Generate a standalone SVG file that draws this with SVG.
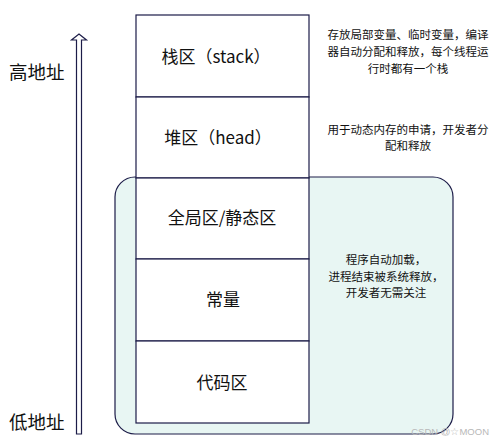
<svg xmlns="http://www.w3.org/2000/svg" width="504" height="445" viewBox="0 0 504 445">
<style>
.cell{fill:#ffffff;stroke:#1c1c48;stroke-width:1.2}
.big{font-family:"Noto Sans CJK SC","Noto Sans",sans-serif;font-size:17px;fill:#111;text-anchor:middle}
.side{font-family:"Noto Sans CJK SC","Noto Sans",sans-serif;font-size:11.5px;fill:#111;text-anchor:middle}
.addr{font-family:"Noto Sans CJK SC","Noto Sans",sans-serif;font-size:18.5px;fill:#111}
</style>
<rect width="504" height="445" fill="#ffffff"/>
<g id="region">
<rect x="115" y="177" width="338" height="257" rx="20" ry="20" fill="#e8f6f3" stroke="#1c1c48" stroke-width="1.2"/>
</g>
<g id="stack"><rect class="cell" x="136" y="15" width="173" height="82"/><text class="big" x="216" y="63">栈区（stack）</text></g>
<g id="heap"><rect class="cell" x="136" y="97" width="173" height="81"/><text class="big" x="218" y="144">堆区（head）</text></g>
<g id="global"><rect class="cell" x="136" y="178" width="173" height="81"/><text class="big" x="222" y="224">全局区/静态区</text></g>
<g id="const"><rect class="cell" x="136" y="259" width="173" height="82"/><text class="big" x="223" y="306">常量</text></g>
<g id="code"><rect class="cell" x="136" y="341" width="173" height="82"/><text class="big" x="222" y="389">代码区</text></g>
<g id="notes">
<text class="side" x="408" y="39">存放局部变量、临时变量，编译</text>
<text class="side" x="408" y="56">器自动分配和释放，每个线程运</text>
<text class="side" x="408" y="73">行时都有一个栈</text>
<text class="side" x="408" y="134">用于动态内存的申请，开发者分</text>
<text class="side" x="408" y="150">配和释放</text>
<text class="side" x="386" y="264">程序自动加载，</text>
<text class="side" x="386" y="281">进程结束被系统释放，</text>
<text class="side" x="386" y="297">开发者无需关注</text>
</g>
<g id="connectors">
<path d="M76.5,434 L76.5,40 L71.5,40 L79,34 L86.5,40 L81.5,40 L81.5,434 Z" fill="#ffffff" stroke="#1c1c48" stroke-width="1.2"/>
</g>
<g id="labels">
<text class="addr" x="9" y="79">高地址</text>
<text class="addr" x="9" y="429">低地址</text>
</g>
<text x="489" y="435" font-family="Liberation Sans,sans-serif" font-size="9.5" fill="#b8b8b8" text-anchor="end">CSDN @☆MOON</text>
</svg>
